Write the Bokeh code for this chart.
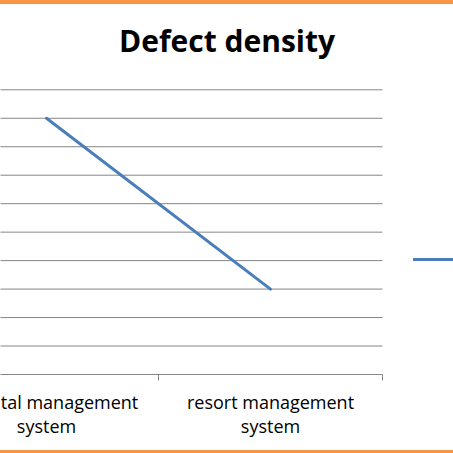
from bokeh.plotting import figure
from bokeh.models import Range1d, FixedTicker, Legend, LegendItem, Div, Title
from bokeh.core.properties import value
from bokeh.layouts import column
from bokeh.embed import file_html
from bokeh.resources import INLINE

# ---- data ----
categories = ["hospital management\nsystem", "resort management\nsystem"]
values = [0.9, 0.3]
grid_values = [0.1, 0.2, 0.3, 0.4, 0.5, 0.6, 0.7, 0.8, 0.9, 1.0]
series_name = "Defect density"
title_text = "Defect density"

x_pos = list(range(len(categories)))
cat_bounds = [i - 0.5 for i in range(len(categories) + 1)]

ORANGE = "#F79646"
GRID = "#868686"
BLUE = "#4A7EBB"
FONT = "Open Sans"

W = 453
x_range = Range1d(-0.2054, 1.8170)

p = figure(width=W, height=378, output_backend="svg", toolbar_location=None,
           title=None, x_range=x_range, y_range=Range1d(0, 1.0046),
           y_axis_location=None, min_border_left=0, min_border_right=0,
           min_border_top=84, min_border_bottom=8)
p.outline_line_color = None
p.xgrid.visible = False
p.ygrid.visible = False
p.background_fill_color = "white"
p.border_fill_color = "white"

# spacer between title and plot area, then the chart title
p.add_layout(Title(text=" ", text_font=FONT, text_font_size="10px", standoff=12), "above")
p.add_layout(Title(text=title_text, align="center", vertical_align="bottom",
                   text_font=FONT, text_font_style="bold", text_font_size="30px",
                   text_color="black", standoff=0), "above")

# horizontal gridlines limited to plot area
p.segment(x0=[cat_bounds[0]] * len(grid_values), x1=[cat_bounds[-1]] * len(grid_values),
          y0=grid_values, y1=grid_values, line_color=GRID, line_width=1)

r = p.line(x=x_pos, y=values, line_color=BLUE, line_width=3, line_cap="round")

ax = p.xaxis[0]
ax.ticker = FixedTicker(ticks=x_pos, minor_ticks=cat_bounds)
ax.major_label_overrides = {i: "" for i in x_pos}
ax.major_label_text_font_size = "1px"
ax.major_label_standoff = 0
ax.bounds = (cat_bounds[0], cat_bounds[-1])
ax.axis_line_color = GRID
ax.major_tick_out = 0
ax.major_tick_in = 0
ax.minor_tick_out = 6
ax.minor_tick_in = 0
ax.minor_tick_line_color = GRID

legend = Legend(items=[LegendItem(label=series_name, renderers=[r])],
                location=(413, 105), padding=0, margin=0, spacing=0,
                glyph_width=45, glyph_height=20, label_height=20,
                border_line_alpha=0, background_fill_alpha=0,
                label_text_font=FONT, label_text_font_size="12px")
p.add_layout(legend)

# category labels strip (shares the x scale; clipped at the left edge like the original crop)
q = figure(width=W, height=68, output_backend="svg", toolbar_location=None,
           x_range=x_range, y_range=Range1d(0, 1),
           x_axis_location=None, y_axis_location=None, min_border=0)
q.outline_line_color = None
q.xgrid.visible = False
q.ygrid.visible = False
q.background_fill_color = "white"
q.border_fill_color = "white"
q.text(x=x_pos, y=[1] * len(x_pos), text=categories, text_align="center",
       text_baseline="top", y_offset=7, text_font=value(FONT),
       text_font_size=value("18px"), text_color="black", text_line_height=1.0)

top_band = Div(text="", width=W, height=4, margin=0,
               styles={"background-color": ORANGE})
bottom_band = Div(text="", width=W, height=3, margin=0,
                  styles={"background-color": ORANGE})

layout = column(top_band, p, q, bottom_band, spacing=0)

open("out.html", "w").write(file_html(layout, INLINE))
